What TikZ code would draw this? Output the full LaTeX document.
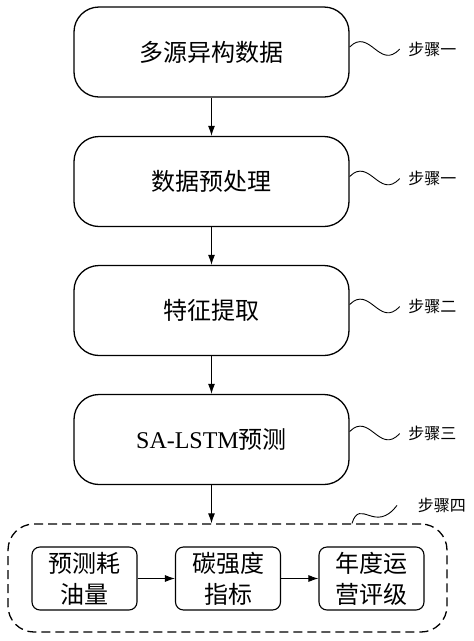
\documentclass[tikz,border=0pt]{standalone}
\usepackage{fontspec}
\setmainfont{Liberation Serif}
\newfontfamily\cjk{Noto Sans CJK SC}
\usetikzlibrary{calc}
\usetikzlibrary{arrows.meta}
\tikzset{
	bigbox/.style={draw, line width=1.3pt, rounded corners=25pt, minimum width=275pt, minimum height=90pt, inner sep=0pt, font=\fontsize{24}{28}\selectfont},
	smallbox/.style={draw, line width=1.1pt, rounded corners=8pt, minimum width=105pt, minimum height=63pt, inner sep=0pt, align=center, font=\fontsize{24}{31}\selectfont\cjk},
	groupbox/.style={draw, line width=1.3pt, dash pattern=on 9pt off 5pt, rounded corners=26pt, minimum width=439pt, minimum height=108pt},
	flow/.style={line width=1pt, -{Latex[length=10pt,width=7pt]}},
	wave/.style={line width=0.9pt},
	steplabel/.style={right, xshift=5pt, font=\fontsize{16}{19}\selectfont\cjk},
}

\begin{document}
\begin{tikzpicture}[x=1pt,y=-1pt]
	\useasboundingbox (0,0) rectangle (474,641);
	\node[bigbox] (data) at (211.5,52) {\cjk 多源异构数据};
	\node[bigbox] (prep) at (211.5,181.5) {\cjk 数据预处理};
	\node[bigbox] (feat) at (211.5,310.5) {\cjk 特征提取};
	\node[bigbox] (lstm) at (211.5,439.5) {SA-LSTM{\cjk 预测}};
	\node[groupbox] (eval) at (227.5,578) {};
	\node[smallbox] (fuel) at (84.5,578.5) {预测耗\\油量};
	\node[smallbox] (cii) at (228,578.5) {碳强度\\指标};
	\node[smallbox] (grade) at (371.5,578.5) {年度运\\营评级};
	\draw[flow] (data) -- (prep);
	\draw[flow] (prep) -- (feat);
	\draw[flow] (feat) -- (lstm);
	\draw[flow] (lstm.south) -- (lstm.south |- eval.north);
	\draw[flow] (fuel) -- (cii);
	\draw[flow] (cii) -- (grade);
	% step marks
	\draw[wave] ([yshift=5pt]data.east) .. controls +(20,-20) and +(-20,22) .. ++(50,2) node[steplabel] {步骤一};
	\draw[wave] ([yshift=5pt]prep.east) .. controls +(20,-20) and +(-20,22) .. ++(50,2) node[steplabel] {步骤一};
	\draw[wave] ([yshift=6pt]feat.east) .. controls +(20,-20) and +(-20,22) .. ++(50,2) node[steplabel] {步骤二};
	\draw[wave] ([yshift=8pt]lstm.east) .. controls +(20,-20) and +(-20,22) .. ++(50,2) node[steplabel] {步骤三};
	\draw[wave] ($(eval.north)+(124.5,0)$) .. controls +(8,-26) and +(-22,29) .. ++(45,-18) node[steplabel, xshift=12pt] {步骤四};
\end{tikzpicture}
\end{document}
